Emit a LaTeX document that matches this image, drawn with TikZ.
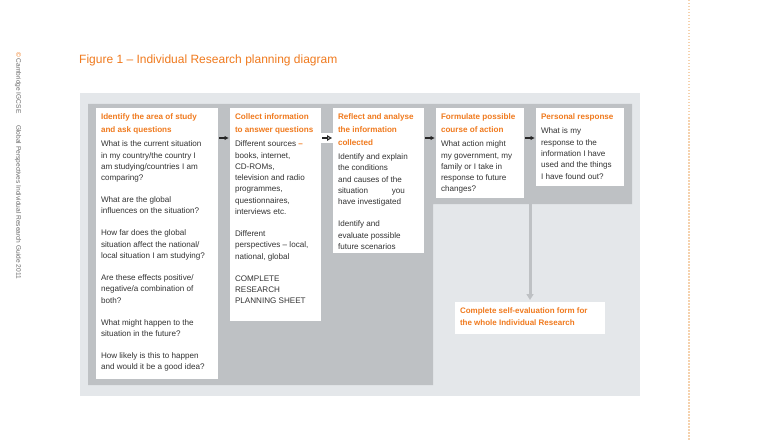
\documentclass[tikz,border=0pt]{standalone}
\usepackage{fontspec}
\setmainfont{Liberation Sans}
\usetikzlibrary{arrows.meta}

\definecolor{figorange}{HTML}{F07A1E}
\definecolor{panelgrey}{HTML}{E4E7EA}
\definecolor{bandgrey}{HTML}{BEC1C4}
\definecolor{bodygrey}{HTML}{333333}
\definecolor{rulepeach}{HTML}{F5D2AE}

\newcommand{\headfont}{\fontsize{8.1}{12.8}\selectfont\bfseries\color{figorange}}
\newcommand{\bodyfont}{\fontsize{8.1}{11.3}\selectfont\color{bodygrey}}
\newcommand{\stagegap}{\\[10.7pt]}
\newcommand{\stagetext}[4]{\parbox[c][#2pt][t]{#1pt}{\raggedright{\headfont #3\par}\vspace{2.8pt}{\bodyfont #4\par}}}

\tikzset{
    stage/.style={fill=white, anchor=north west, inner xsep=5pt, inner ysep=6pt, outer sep=0pt},
    flow/.style={-{Latex[length=4.5pt,width=4.5pt]}, line width=1.3pt, black!85, shorten <=1pt, shorten >=1pt},
    openflow/.style={-{Triangle[open,length=5pt,width=5.5pt]}, line width=1.1pt, black!85, shorten <=1pt, shorten >=1pt},
    feed/.style={-{Triangle[length=6pt,width=7pt]}, line width=3pt, bandgrey, shorten >=2pt},
    sidenote/.style={rotate=-90, anchor=west, font=\fontsize{6.6}{8}\selectfont, text=black!60, inner sep=0pt}
}

\begin{document}
\begin{tikzpicture}[x=1pt, y=-1pt]
    \useasboundingbox (0,0) rectangle (784,441);
    \fill[white] (0,0) rectangle (784,441);

    % Side notes and page rule
    \node[sidenote] (brand) at (18,52) {\textcolor{figorange}{\copyright}\ Cambridge IGCSE};
    \node[sidenote] (guide) at (18,125) {Global Perspectives Individual Research Guide 2011};
    \draw[rulepeach, line width=1.2pt, dash pattern=on 1.5pt off 1.5pt] (689,0) -- (689,441);

    % Title
    \node[anchor=west, inner sep=0pt, text=figorange, font=\fontsize{12}{14}\selectfont] (figtitle) at (79,60) {Figure 1 -- Individual Research planning diagram};

    % Panel and band
    \fill[panelgrey] (80,93) rectangle (640,396);
    \fill[bandgrey] (88,104) -- (632,104) -- (632,204) -- (433,204) -- (433,385) -- (88,385) -- cycle;

    % Stages
    \node[stage] (ident) at (96,108) {\stagetext{112}{259}{Identify the area of study\\and ask questions}{%
        What is the current situation\\
        in my country/the country I\\
        am studying/countries I am\\
        comparing?\stagegap
        What are the global\\
        influences on the situation?\stagegap
        How far does the global\\
        situation affect the national/\\
        local situation I am studying?\stagegap
        Are these effects positive/\\
        negative/a combination of\\
        both?\stagegap
        What might happen to the\\
        situation in the future?\stagegap
        How likely is this to happen\\
        and would it be a good idea?}};

    \node[stage] (collect) at (230,108) {\stagetext{81}{201}{Collect information\\to answer questions}{%
        Different sources \textcolor{figorange}{\textbf{--}}\\
        books, internet,\\
        CD-ROMs,\\
        television and radio\\
        programmes,\\
        questionnaires,\\
        interviews etc.\stagegap
        Different\\
        perspectives -- local,\\
        national, global\stagegap
        COMPLETE\\
        RESEARCH\\
        PLANNING SHEET}};

    \node[stage] (reflect) at (333,108) {\stagetext{81}{133}{Reflect and analyse\\the information\\collected}{%
        Identify and explain\\
        the conditions\\
        and causes of the\\
        \makebox[67pt][l]{situation\hfill you}\\
        have investigated\stagegap
        Identify and\\
        evaluate possible\\
        future scenarios}};

    \node[stage] (formulate) at (436,108) {\stagetext{78}{78}{Formulate possible\\course of action}{%
        What action might\\
        my government, my\\
        family or I take in\\
        response to future\\
        changes?}};

    \node[stage] (respond) at (536,108) {\stagetext{78}{66}{Personal response}{%
        What is my\\
        response to the\\
        information I have\\
        used and the things\\
        I have found out?}};

    \node[stage] (selfeval) at (455,302) {\parbox[c][20pt][t]{140pt}{\raggedright\fontsize{8}{12}\selectfont\bfseries\color{figorange}Complete self-evaluation form for\\the whole Individual Research}};

    % Connectors
    \draw[flow] ([yshift=-30pt]ident.north east) -- ([yshift=-30pt]collect.north west);
    \fill[white] ([yshift=-25pt]collect.north east) rectangle ([yshift=-35pt]reflect.north west);
    \draw[openflow] ([yshift=-30pt]collect.north east) -- ([yshift=-30pt]reflect.north west);
    \draw[flow] ([yshift=-30pt]reflect.north east) -- ([yshift=-30pt]formulate.north west);
    \draw[flow] ([yshift=-30pt]formulate.north east) -- ([yshift=-30pt]respond.north west);

    \coordinate (bandfoot) at (530,204);
    \draw[feed] (bandfoot) -- (selfeval.north);
\end{tikzpicture}
\end{document}
